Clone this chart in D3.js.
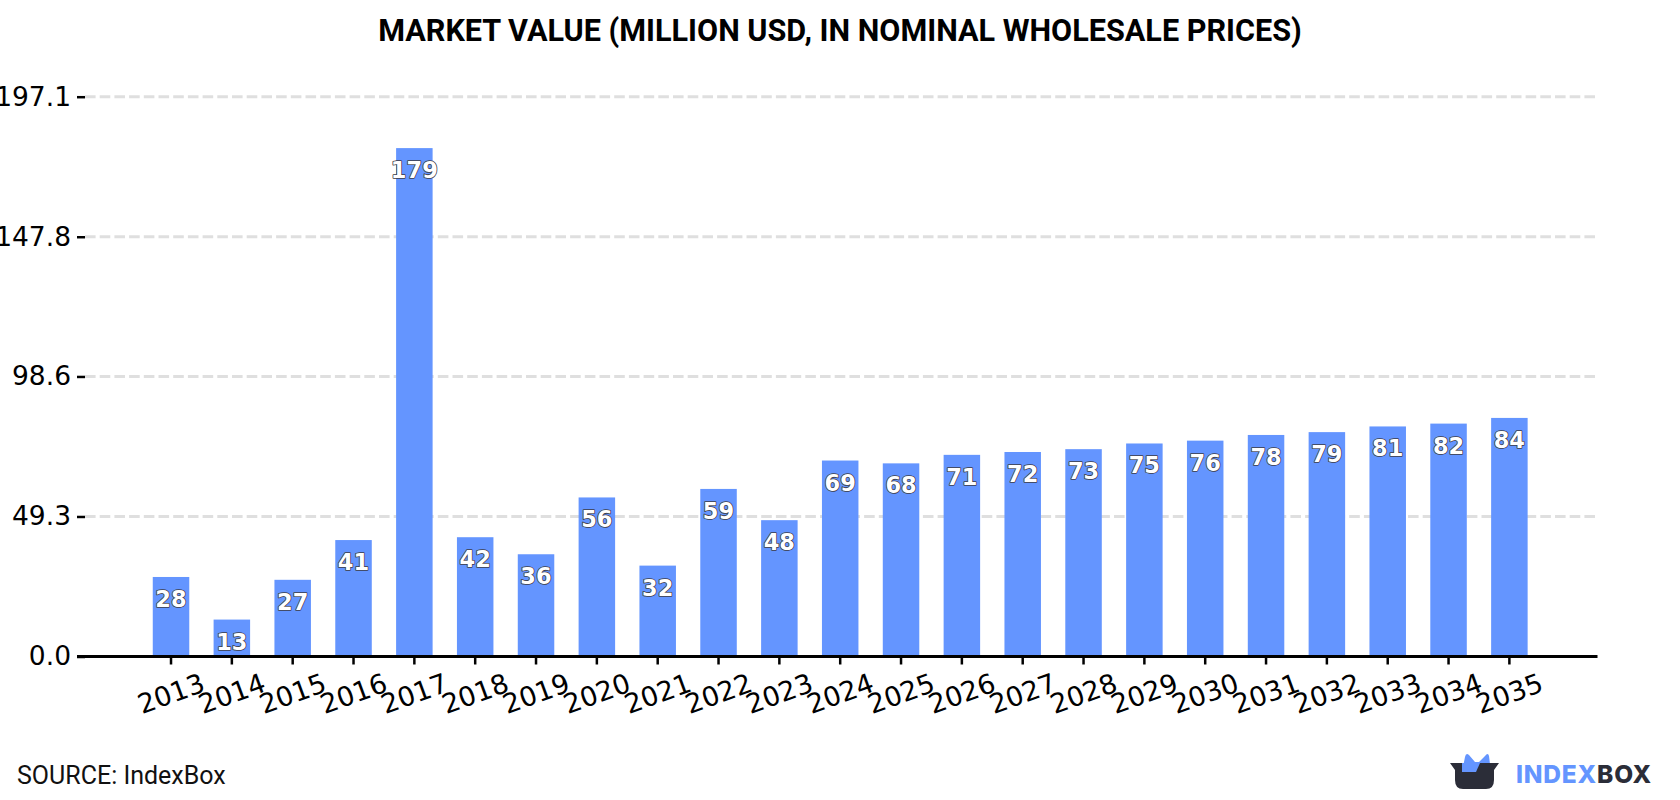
<!DOCTYPE html>
<html>
<head>
<meta charset="utf-8">
<script src="https://cdn.jsdelivr.net/npm/d3@7/dist/d3.min.js"></script>
<style>
html, body { margin: 0; padding: 0; background: #fff; }
svg { display: block; }
</style>
</head>
<body>
<svg id="chart" width="1680" height="800"></svg>
<script>
const chartTitle = "MARKET VALUE (MILLION USD, IN NOMINAL WHOLESALE PRICES)";
const sourceText = "SOURCE: IndexBox";
const years = ["2013","2014","2015","2016","2017","2018","2019","2020","2021","2022","2023","2024","2025","2026","2027","2028","2029","2030","2031","2032","2033","2034","2035"];
const marketValues = [28,13,27,41,179,42,36,56,32,59,48,69,68,71,72,73,75,76,78,79,81,82,84];
const yTicks = [0.0,49.3,98.6,147.8,197.1];

const svg = d3.select("#chart");

const x = d3.scaleBand().domain(years).range([140.6, 1539.8]).paddingInner(0.4).paddingOuter(0.2);
const y = d3.scaleLinear().domain([0, 197.1]).range([656.5, 96.7]);

const barBlue = "#6495ff";
const ink = "#000";
const logoDark = "#2b2d38";

// Title
svg.append("text")
  .attr("x", 840).attr("y", 41)
  .attr("text-anchor", "middle")
  .style("font", "700 30.6px Roboto")
  .attr("fill", ink)
  .text(chartTitle);

// Dashed horizontal grid, drawn under the bars
svg.append("g").selectAll("line").data(yTicks.slice(1)).join("line")
  .attr("x1", 85).attr("x2", 1597)
  .attr("y1", d => y(d)).attr("y2", d => y(d))
  .attr("stroke", "#dfdfdf").attr("stroke-width", 3)
  .attr("stroke-dasharray", "10.6 4.1");

// Bars
svg.append("g").selectAll("rect").data(marketValues).join("rect")
  .attr("x", (d, i) => x(years[i]))
  .attr("width", x.bandwidth())
  .attr("y", d => y(d))
  .attr("height", d => y(0) - y(d))
  .attr("fill", barBlue);

// Left axis
const yAxis = svg.append("g")
  .attr("transform", "translate(85,0)")
  .call(d3.axisLeft(y).tickValues(yTicks).tickFormat(d3.format(".1f")).tickSize(8).tickPadding(6));
yAxis.select(".domain").remove();
yAxis.selectAll("line").attr("stroke", ink).attr("stroke-width", 2.5);
yAxis.selectAll("text")
  .style("font", "26.5px 'DejaVu Sans'")
  .attr("fill", ink);

// Bottom axis with tilted year labels
const xAxis = svg.append("g")
  .attr("transform", "translate(0,656.5)")
  .call(d3.axisBottom(x).tickSize(8).tickPadding(0));
xAxis.select(".domain").remove();
xAxis.selectAll("line").attr("stroke", ink).attr("stroke-width", 2.5);
xAxis.selectAll("text")
  .attr("y", 0).attr("dy", 0)
  .attr("text-anchor", "middle")
  .attr("dominant-baseline", "central")
  .attr("transform", "translate(0,37) rotate(-20)")
  .style("font", "27px 'DejaVu Sans'")
  .attr("fill", ink);

svg.append("line")
  .attr("x1", 77).attr("x2", 1597.5)
  .attr("y1", y(0)).attr("y2", y(0))
  .attr("stroke", ink).attr("stroke-width", 3);

// Value labels inside each bar, white with a thin dark outline
svg.append("g").selectAll("text").data(marketValues).join("text")
  .attr("x", (d, i) => x(years[i]) + x.bandwidth() / 2)
  .attr("y", d => y(d) + 30)
  .attr("text-anchor", "middle")
  .style("font", "700 22.5px 'DejaVu Sans'")
  .attr("fill", "#fff")
  .attr("stroke", "#3c3c46")
  .attr("stroke-width", 1.6)
  .attr("paint-order", "stroke")
  .attr("stroke-linejoin", "round")
  .text(d => d);

// Source note
svg.append("text")
  .attr("x", 17).attr("y", 784)
  .style("font", "25px Roboto")
  .attr("fill", "#111")
  .text(sourceText);

// Brand mark and wordmark
const logo = svg.append("g");
logo.append("path")
  .attr("d", "M1462,772 L1465,757 Q1466,752 1469,755 L1475,762 L1479,762 L1485,756 Q1488,752 1489,756 L1491,772 Z")
  .attr("fill", barBlue);
logo.append("path")
  .attr("d", "M1450,763 L1499,763 L1494,770 L1494,780 Q1494,789 1486,789 L1463,789 Q1455,789 1455,780 L1455,770 Z")
  .attr("fill", logoDark);
logo.append("path")
  .attr("d", "M1462,772 L1476,772 L1480,763 L1462,763 Z")
  .attr("fill", barBlue);
svg.append("text")
  .attr("x", 1516).attr("y", 783)
  .style("font", "800 24.5px Inter, Roboto")
  .style("letter-spacing", "0.8px")
  .call(t => t.append("tspan").attr("fill", barBlue).text("INDEX"))
  .call(t => t.append("tspan").attr("fill", logoDark).text("BOX"));
</script>
</body>
</html>
